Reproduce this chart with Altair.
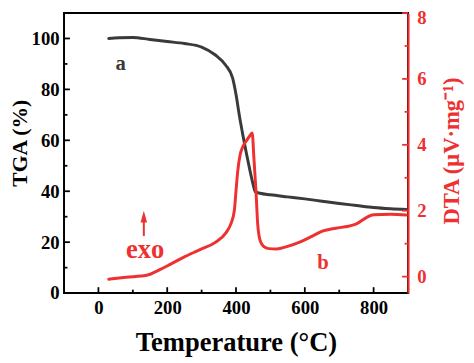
import altair as alt
import pandas as pd

# ---------------- data ----------------
tga_temp = [30, 60, 100, 150, 200, 250, 300, 340, 370, 390, 400, 410, 420, 430,
            440, 450, 456, 470, 500, 550, 600, 650, 700, 750, 800, 850, 895]
tga_vals = [100.0, 100.3, 100.4, 99.6, 98.8, 98.0, 96.6, 93.5, 89.5, 84.5, 78.0,
            69.5, 62.0, 55.0, 48.5, 42.5, 39.8, 39.2, 38.6, 37.8, 37.0, 36.1,
            35.2, 34.4, 33.6, 33.1, 32.8]

dta_temp = [30, 80, 140, 180, 210, 250, 283, 300, 340, 370, 385, 395, 400, 405,
            412, 420, 432, 442, 447, 452, 458, 463, 470, 480, 495, 518, 550, 585,
            620, 651, 690, 727, 750, 780, 800, 850, 895]
dta_vals = [-0.08, -0.02, 0.04, 0.22, 0.38, 0.6, 0.76, 0.84, 1.04, 1.32, 1.6,
            2.0, 2.6, 3.2, 3.7, 3.95, 4.15, 4.3, 4.36, 3.6, 2.6, 1.6, 1.1, 0.92,
            0.85, 0.84, 0.92, 1.05, 1.22, 1.38, 1.47, 1.53, 1.6, 1.8, 1.88, 1.89,
            1.87]

x_major = [0, 200, 400, 600, 800]
x_minor = [100, 300, 500, 700]
tga_major = [0, 20, 40, 60, 80, 100]
tga_minor = [10, 30, 50, 70, 90]
dta_major = [0, 2, 4, 6, 8]
dta_minor = [1, 3, 5, 7]

# annotations
label_a = ["a"]; label_a_T = [65]; label_a_v = [90]
label_b = ["b"]; label_b_T = [653]; label_b_v = [0.42]
label_exo = ["exo"]; label_exo_T = [136]; label_exo_v = [0.81]
arrow_T = [132]; arrow_base = [1.23]; arrow_top = [1.74]; arrow_head = [1.82]

FONT = "Liberation Serif"
RED = "#ee3030"
DARK = "#3a3a3a"
W, H = 350, 285
TICK = 6          # major tick length (inward)
MINOR = 3.5       # minor tick length (inward)

tga_df = pd.DataFrame({"T": tga_temp, "v": tga_vals})
dta_df = pd.DataFrame({"T": dta_temp, "v": dta_vals})
a_df = pd.DataFrame({"T": label_a_T, "v": label_a_v, "label": label_a})
b_df = pd.DataFrame({"T": label_b_T, "v": label_b_v, "label": label_b})
exo_df = pd.DataFrame({"T": label_exo_T, "v": label_exo_v, "label": label_exo})
arrow_df = pd.DataFrame({"T": arrow_T, "v": arrow_base, "v2": arrow_top})
head_df = pd.DataFrame({"T": arrow_T, "v": arrow_head})

common = dict(labelFont=FONT, labelFontSize=19, labelFontWeight="bold",
              labelOverlap=False, labelFlush=False,
              ticks=False, tickSize=0, grid=False,
              titleFont=FONT, titleFontWeight="bold")

x_axis = alt.Axis(
    values=x_major, domain=False,
    labelColor="black", labelPadding=6,
    title="Temperature (°C)", titleFontSize=27, titleColor="black",
    titleBaseline="alphabetic", titleY=58,
    **common)

y_left_axis = alt.Axis(
    values=tga_major, orient="left", domain=False,
    labelColor="black", labelPadding=5,
    title="TGA (%)", titleFontSize=22, titleColor="black", titleAngle=270,
    titleBaseline="alphabetic", titleAlign="center", titleX=-38, titleY=132,
    **common)

y_right_axis = alt.Axis(
    values=dta_major, orient="right",
    domain=True, domainColor=RED, domainWidth=2.2,
    labelColor=RED, labelPadding=9,
    labelOffset={"condition": {"test": "datum.value === 8", "value": 5}, "value": 0},
    title="DTA (μV·mg⁻¹)", titleFontSize=23, titleColor=RED, titleAngle=270,
    titleBaseline="alphabetic", titleAlign="center", titleX=51, titleY=140,
    **common)

x_enc = alt.X("T:Q", scale=alt.Scale(domain=[-100, 900], nice=False, zero=False),
              axis=x_axis)
y_tga = alt.Y("v:Q", scale=alt.Scale(domain=[0, 110], nice=False, zero=False),
              axis=y_left_axis)
y_dta = alt.Y("v:Q", scale=alt.Scale(domain=[-0.5, 8], nice=False, zero=False),
              axis=y_right_axis)

# ---------- inward tick marks, placed through the scales ----------
def x_ticks_layer(vals, length):
    return alt.Chart(pd.DataFrame({"T": vals})).mark_rule(
        color="black", strokeWidth=1.8
    ).encode(x=x_enc, y=alt.value(H - length), y2=alt.value(H))


def left_ticks_layer(vals, length):
    return alt.Chart(pd.DataFrame({"v": vals})).mark_rule(
        color="black", strokeWidth=1.8
    ).encode(y=y_tga, x=alt.value(0), x2=alt.value(length))


def right_ticks_layer(vals, length):
    return alt.Chart(pd.DataFrame({"v": vals})).mark_rule(
        color=RED, strokeWidth=1.8
    ).encode(y=y_dta, x=alt.value(W - length), x2=alt.value(W))


tga_line = alt.Chart(tga_df).mark_line(
    color=DARK, strokeWidth=3, interpolate="monotone", strokeCap="round"
).encode(x=x_enc, y=y_tga)

a_text = alt.Chart(a_df).mark_text(
    font=FONT, fontSize=21, fontWeight="bold", color=DARK,
    baseline="middle", align="center"
).encode(x=x_enc, y=y_tga, text="label:N")

dta_line = alt.Chart(dta_df).mark_line(
    color=RED, strokeWidth=3, interpolate="monotone", strokeCap="round"
).encode(x=x_enc, y=y_dta)

b_text = alt.Chart(b_df).mark_text(
    font=FONT, fontSize=21, fontWeight="bold", color=RED,
    baseline="middle", align="center"
).encode(x=x_enc, y=y_dta, text="label:N")

exo_text = alt.Chart(exo_df).mark_text(
    font=FONT, fontSize=27, fontWeight="bold", color=RED,
    baseline="middle", align="center"
).encode(x=x_enc, y=y_dta, text="label:N")

arrow_rule = alt.Chart(arrow_df).mark_rule(color=RED, strokeWidth=2).encode(
    x=x_enc, y=y_dta, y2="v2:Q")

arrow_tip = alt.Chart(head_df).mark_point(
    shape="M0,-1L0.55,1L-0.55,1Z", filled=True, size=144, color=RED, opacity=1
).encode(x=x_enc, y=y_dta)

group_tga = alt.layer(
    tga_line, a_text,
    left_ticks_layer(tga_major, TICK), left_ticks_layer(tga_minor, MINOR),
    x_ticks_layer(x_major, TICK), x_ticks_layer(x_minor, MINOR),
)
group_dta = alt.layer(
    dta_line, b_text, exo_text, arrow_rule, arrow_tip,
    right_ticks_layer(dta_major, TICK), right_ticks_layer(dta_minor, MINOR),
)

chart = alt.layer(group_tga, group_dta).resolve_scale(y="independent").properties(
    width=W, height=H,
    autosize=alt.AutoSizeParams(type="none"),
    padding={"left": 57, "top": 2, "right": 59, "bottom": 66},
    background="white",
).configure_view(stroke="black", strokeWidth=2)

chart.save("out.html", embed_options={"renderer": "svg", "actions": False})
